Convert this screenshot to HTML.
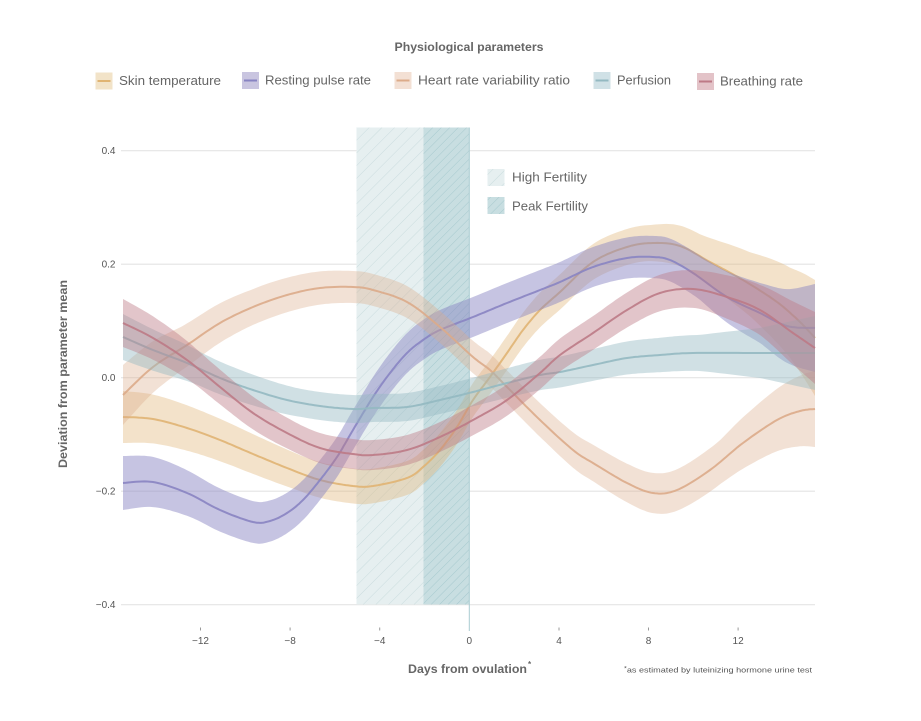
<!DOCTYPE html>
<html>
<head>
<meta charset="utf-8">
<style>
  html, body { margin:0; padding:0; background:#ffffff; }
  body { width:921px; height:721px; overflow:hidden; }
  svg { display:block; font-family:"Liberation Sans", "DejaVu Sans", sans-serif; }
</style>
</head>
<body>
<svg id="chart" width="921" height="721" viewBox="0 0 921 721" xmlns="http://www.w3.org/2000/svg">
  <defs>
    <pattern id="hatchH" patternUnits="userSpaceOnUse" width="9" height="9" patternTransform="rotate(45)">
      <rect width="9" height="9" fill="#e6eff0"/>
      <line x1="0" y1="0" x2="0" y2="9" stroke="#cadcde" stroke-width="1"/>
    </pattern>
    <pattern id="hatchP" patternUnits="userSpaceOnUse" width="6" height="6" patternTransform="rotate(45)">
      <rect width="6" height="6" fill="#c8dee1"/>
      <line x1="0" y1="0" x2="0" y2="6" stroke="#a6c9ce" stroke-width="1"/>
    </pattern>
    <clipPath id="plotClip"><rect x="121" y="120" width="695" height="500"/></clipPath>
  </defs>

  <!-- Title -->
  <text x="469" y="51" text-anchor="middle" font-size="11.5" font-weight="bold" fill="#666" textLength="149" lengthAdjust="spacingAndGlyphs">Physiological parameters</text>

  <!-- Legend -->
  <g font-size="12.5" fill="#666">
    <rect x="95.5" y="72.5" width="17" height="17" fill="#f2e3c8"/>
    <line x1="97.5" y1="81" x2="110.5" y2="81" stroke="#e0b473" stroke-width="2"/>
    <text x="119" y="85" textLength="102" lengthAdjust="spacingAndGlyphs">Skin temperature</text>

    <rect x="242" y="72" width="17" height="17" fill="#c9c5e0"/>
    <line x1="244" y1="80.5" x2="257" y2="80.5" stroke="#8884c2" stroke-width="2"/>
    <text x="265" y="84.5" textLength="106" lengthAdjust="spacingAndGlyphs">Resting pulse rate</text>

    <rect x="394.5" y="72" width="17" height="17" fill="#f3e0d4"/>
    <line x1="396.5" y1="80.5" x2="409.5" y2="80.5" stroke="#dcab8a" stroke-width="2"/>
    <text x="418" y="84.5" textLength="152" lengthAdjust="spacingAndGlyphs">Heart rate variability ratio</text>

    <rect x="593.5" y="72" width="17" height="17" fill="#d0e1e6"/>
    <line x1="595.5" y1="80.5" x2="608.5" y2="80.5" stroke="#94b9c1" stroke-width="2"/>
    <text x="617" y="84.5" textLength="54" lengthAdjust="spacingAndGlyphs">Perfusion</text>

    <rect x="697" y="73" width="17" height="17" fill="#e3c3c8"/>
    <line x1="699" y1="81.5" x2="712" y2="81.5" stroke="#bd7a86" stroke-width="2"/>
    <text x="720" y="85.5" textLength="83" lengthAdjust="spacingAndGlyphs">Breathing rate</text>
  </g>

  <!-- Gridlines -->
  <g stroke="#e4e4e4" stroke-width="1.2">
    <line x1="121" y1="150.7" x2="815" y2="150.7"/>
    <line x1="121" y1="264.2" x2="815" y2="264.2"/>
    <line x1="121" y1="377.7" x2="815" y2="377.7"/>
    <line x1="121" y1="491.2" x2="815" y2="491.2"/>
    <line x1="121" y1="604.7" x2="815" y2="604.7"/>
  </g>

  <!-- Y tick labels -->
  <g font-size="10" fill="#555" text-anchor="end">
    <text x="115.5" y="154.2">0.4</text>
    <text x="115.5" y="267.7">0.2</text>
    <text x="115.5" y="381.2">0.0</text>
    <text x="115.5" y="494.7">−0.2</text>
    <text x="115.5" y="608.2">−0.4</text>
  </g>

  <!-- Y axis title -->
  <text x="67" y="374" transform="rotate(-90 67 374)" text-anchor="middle" font-size="11.5" font-weight="bold" fill="#666" textLength="188" lengthAdjust="spacingAndGlyphs">Deviation from parameter mean</text>

  <!-- Fertility regions -->
  <rect x="356.5" y="127.5" width="67" height="477" fill="url(#hatchH)"/>
  <rect x="423.5" y="127.5" width="45.8" height="477" fill="url(#hatchP)"/>
  <line x1="469.3" y1="127.5" x2="469.3" y2="631" stroke="#a9cbd0" stroke-width="1"/>

  <!-- Series -->
  <g id="series" clip-path="url(#plotClip)"></g>

  <!-- Fertility legend -->
  <rect x="487.5" y="169" width="17" height="17" fill="url(#hatchH)"/>
  <rect x="487.5" y="197" width="17" height="17" fill="url(#hatchP)"/>
  <g font-size="12.5" fill="#666">
    <text x="512" y="181.5" textLength="75" lengthAdjust="spacingAndGlyphs">High Fertility</text>
    <text x="512" y="210.5" textLength="76" lengthAdjust="spacingAndGlyphs">Peak Fertility</text>
  </g>

  <!-- X ticks -->
  <g stroke="#999" stroke-width="1">
    <line x1="200.5" y1="627.5" x2="200.5" y2="630.5"/>
    <line x1="290.1" y1="627.5" x2="290.1" y2="630.5"/>
    <line x1="379.7" y1="627.5" x2="379.7" y2="630.5"/>
    <line x1="559" y1="627.5" x2="559" y2="630.5"/>
    <line x1="648.5" y1="627.5" x2="648.5" y2="630.5"/>
    <line x1="738.1" y1="627.5" x2="738.1" y2="630.5"/>
  </g>
  <g font-size="10" fill="#555" text-anchor="middle">
    <text x="200.5" y="644">−12</text>
    <text x="290.1" y="644">−8</text>
    <text x="379.7" y="644">−4</text>
    <text x="469.3" y="644">0</text>
    <text x="559" y="644">4</text>
    <text x="648.5" y="644">8</text>
    <text x="738.1" y="644">12</text>
  </g>

  <!-- X axis title -->
  <text x="408" y="673" font-size="11.5" font-weight="bold" fill="#666" textLength="119" lengthAdjust="spacingAndGlyphs">Days from ovulation</text>
  <text x="528" y="667" font-size="8" font-weight="bold" fill="#666">*</text>

  <!-- Footnote -->
  <text x="624" y="672.5" font-size="7.5" fill="#555" textLength="188" lengthAdjust="spacingAndGlyphs"><tspan font-size="6" dy="-2">*</tspan><tspan dy="2">as estimated by luteinizing hormone urine test</tspan></text>
</svg>

<script>
(function(){
  var series = [
    {c:'#e0b473', op:0.38,
     pts:[[123,417],[153,419],[187,428],[220,440],[253,454],[287,468],[320,480],[353,486],[373,486],[407,478],[423,467],[440,450],[457,427],[473,400],[490,377],[507,353],[523,330],[540,310],[560,292],[593,262],[627,247],[653,243],[680,246],[710,262],[743,280],[777,302],[800,322],[815,338]],
     hw:[[123,26],[200,22],[300,18],[400,17],[500,17],[600,18],[650,18],[700,22],[750,32],[790,45],[815,58]]},
    {c:'#8884c2', op:0.48,
     pts:[[123,483],[153,482],[187,493],[220,510],[253,522],[270,521],[287,513],[303,500],[320,480],[337,457],[353,430],[373,397],[390,373],[407,353],[423,340],[440,330],[473,317],[507,303],[540,290],[560,282],[593,267],[627,258],[653,257],[670,260],[693,273],[727,297],[760,313],[787,326],[815,328]],
     hw:[[123,27],[200,22],[300,20],[600,20],[700,22],[760,30],[815,44]]},
    {c:'#dcab8a', op:0.36,
     pts:[[123,395],[153,367],[187,345],[220,323],[253,307],[287,295],[320,288],[353,287],[373,290],[407,302],[440,327],[473,357],[490,370],[507,387],[540,420],[573,450],[593,463],[627,483],[653,493],[677,490],[710,470],[743,443],[777,420],[800,411],[815,409]],
     hw:[[123,30],[180,22],[250,18],[350,16],[450,16],[550,17],[650,20],[720,22],[770,30],[815,38]]},
    {c:'#94b9c1', op:0.44,
     pts:[[123,337],[153,350],[187,363],[220,378],[253,390],[287,400],[320,406],[353,409],[373,408],[407,407],[440,400],[473,392],[507,383],[540,375],[560,372],[593,365],[627,358],[660,355],[693,353],[760,353],[815,353]],
     hw:[[123,23],[200,17],[300,14],[450,14],[600,16],[700,18],[760,25],[815,37]]},
    {c:'#bd7a86', op:0.44,
     pts:[[123,323],[153,338],[187,360],[220,387],[253,413],[287,433],[320,448],[353,454],[373,455],[407,450],[440,437],[473,420],[507,400],[540,373],[560,355],[593,333],[627,310],[660,293],[693,289],[727,297],[760,310],[793,333],[815,348]],
     hw:[[123,24],[200,18],[300,15],[450,15],[600,17],[700,19],[760,25],[815,36]]}
  ];
  function sample(pts, n){
    var out=[], L=pts.length;
    for(var i=0;i<L-1;i++){
      var p0=pts[Math.max(i-1,0)], p1=pts[i], p2=pts[i+1], p3=pts[Math.min(i+2,L-1)];
      var c1=[p1[0]+(p2[0]-p0[0])/6, p1[1]+(p2[1]-p0[1])/6];
      var c2=[p2[0]-(p3[0]-p1[0])/6, p2[1]-(p3[1]-p1[1])/6];
      for(var k=0;k<n;k++){
        var t=k/n, u=1-t;
        var x=u*u*u*p1[0]+3*u*u*t*c1[0]+3*u*t*t*c2[0]+t*t*t*p2[0];
        var y=u*u*u*p1[1]+3*u*u*t*c1[1]+3*u*t*t*c2[1]+t*t*t*p2[1];
        out.push([x,y]);
      }
    }
    out.push(pts[L-1]);
    return out;
  }
  function hAt(hw, x){
    if(x<=hw[0][0]) return hw[0][1];
    for(var i=0;i<hw.length-1;i++){
      if(x<=hw[i+1][0]){
        var t=(x-hw[i][0])/(hw[i+1][0]-hw[i][0]);
        return hw[i][1]+t*(hw[i+1][1]-hw[i][1]);
      }
    }
    return hw[hw.length-1][1];
  }
  var g=document.getElementById('series');
  var ns='http://www.w3.org/2000/svg';
  series.forEach(function(s){
    var sp=sample(s.pts, 12);
    var top=[], bot=[], line=[];
    sp.forEach(function(p){
      var h=hAt(s.hw,p[0]);
      top.push(p[0].toFixed(1)+','+(p[1]-h).toFixed(1));
      bot.push(p[0].toFixed(1)+','+(p[1]+h).toFixed(1));
      line.push(p[0].toFixed(1)+','+p[1].toFixed(1));
    });
    bot.reverse();
    var band=document.createElementNS(ns,'path');
    band.setAttribute('d','M'+top.join(' L')+' L'+bot.join(' L')+' Z');
    band.setAttribute('fill',s.c);
    band.setAttribute('fill-opacity',s.op);
    band.setAttribute('stroke','none');
    g.appendChild(band);
    var ln=document.createElementNS(ns,'path');
    ln.setAttribute('d','M'+line.join(' L'));
    ln.setAttribute('fill','none');
    ln.setAttribute('stroke',s.c);
    ln.setAttribute('stroke-width','2');
    ln.setAttribute('stroke-opacity','0.9');
    g.appendChild(ln);
  });
})();
</script>
</body>
</html>
